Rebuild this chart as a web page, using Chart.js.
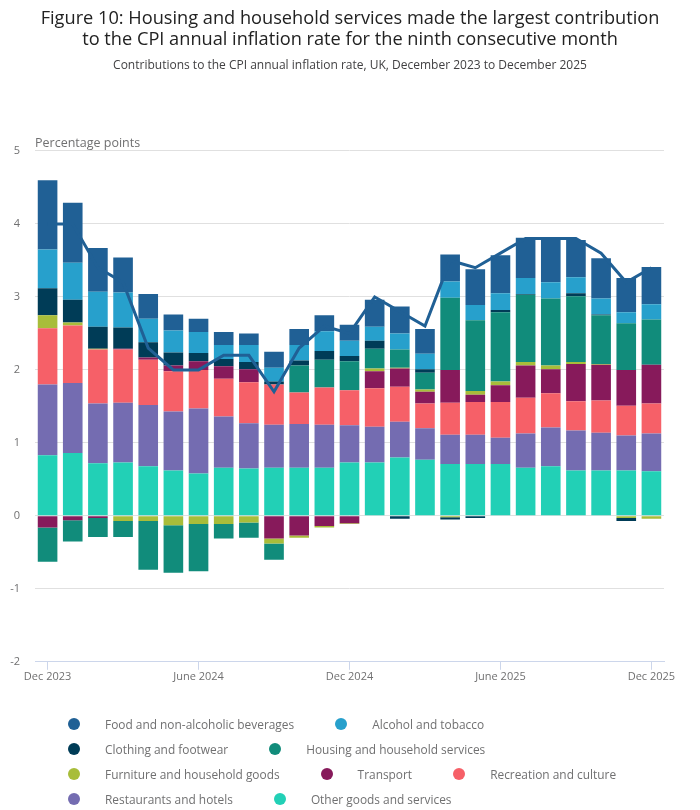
<!DOCTYPE html>
<html>
<head>
<meta charset="utf-8">
<title>CPI contributions</title>
<script src="https://cdn.jsdelivr.net/npm/chart.js@4.4.1/dist/chart.umd.min.js"></script>
<style>
  html, body { margin: 0; padding: 0; background: #fff; }
  #wrap { position: relative; width: 700px; height: 810px; }
  #chart { display: block; }
  #legend {
    position: absolute; left: 68px; top: 711px; width: 610px;
    display: flex; flex-wrap: wrap;
    font-family: "Open Sans", sans-serif; font-size: 11.9px; color: #707071;
  }
  #legend .item { display: flex; align-items: center; height: 25px; margin-right: 41px; }
  #legend .dot { width: 12px; height: 12px; border-radius: 50%; margin-right: 25px; }
</style>
</head>
<body>
<div id="wrap">
  <canvas id="chart" width="700" height="810"></canvas>
  <div id="legend"></div>
</div>
<script>
const months = ["Dec 2023", "Jan 2024", "Feb 2024", "Mar 2024", "Apr 2024", "May 2024", "June 2024",
  "Jul 2024", "Aug 2024", "Sep 2024", "Oct 2024", "Nov 2024", "Dec 2024", "Jan 2025", "Feb 2025",
  "Mar 2025", "Apr 2025", "May 2025", "June 2025", "Jul 2025", "Aug 2025", "Sep 2025", "Oct 2025",
  "Nov 2025", "Dec 2025"];

const yTicks = [-2, -1, 0, 1, 2, 3, 4, 5];

// contributions, percentage points
const food = [0.95, 0.82, 0.60, 0.48, 0.34, 0.22, 0.18, 0.18, 0.16, 0.22, 0.22, 0.22, 0.22,
  0.37, 0.37, 0.34, 0.37, 0.49, 0.52, 0.55, 0.58, 0.51, 0.55, 0.47, 0.51];
const alcohol = [0.53, 0.51, 0.48, 0.48, 0.32, 0.30, 0.29, 0.19, 0.23, 0.19, 0.21, 0.27, 0.21,
  0.19, 0.22, 0.21, 0.22, 0.21, 0.23, 0.22, 0.22, 0.22, 0.22, 0.15, 0.21];
const clothing = [0.37, 0.31, 0.30, 0.29, 0.21, 0.18, 0.11, 0.10, 0.10, 0.04, 0.07, 0.12, 0.07,
  0.11, -0.04, 0.05, -0.03, -0.03, 0.03, 0.01, 0.00, 0.04, 0.01, -0.04, 0.00];
const housing = [-0.47, -0.29, -0.26, -0.22, -0.67, -0.65, -0.65, -0.20, -0.21, -0.22, 0.37, 0.38, 0.40,
  0.27, 0.25, 0.23, 0.99, 0.97, 0.95, 0.92, 0.92, 0.90, 0.67, 0.64, 0.62];
const furniture = [0.18, 0.04, 0.01, -0.07, -0.07, -0.13, -0.11, -0.11, -0.09, -0.07, -0.03, -0.02, -0.01,
  0.04, 0.01, 0.03, -0.02, 0.05, 0.05, 0.05, 0.05, 0.03, 0.01, -0.03, -0.04];
const transport = [-0.16, -0.06, -0.03, 0.01, 0.03, 0.08, 0.12, 0.17, 0.18, -0.31, -0.27, -0.14, -0.10,
  0.23, 0.25, 0.16, 0.45, 0.10, 0.23, 0.44, 0.33, 0.51, 0.49, 0.49, 0.53];
const recreation = [0.77, 0.79, 0.74, 0.73, 0.62, 0.55, 0.53, 0.52, 0.56, 0.55, 0.43, 0.51, 0.48,
  0.53, 0.48, 0.34, 0.44, 0.45, 0.49, 0.49, 0.47, 0.40, 0.44, 0.41, 0.41];
const restaurants = [0.97, 0.96, 0.82, 0.82, 0.84, 0.81, 0.89, 0.70, 0.62, 0.59, 0.60, 0.59, 0.51,
  0.49, 0.49, 0.43, 0.40, 0.40, 0.36, 0.47, 0.53, 0.55, 0.52, 0.48, 0.52];
const otherGoods = [0.83, 0.86, 0.72, 0.73, 0.68, 0.62, 0.58, 0.66, 0.65, 0.66, 0.66, 0.66, 0.73,
  0.73, 0.80, 0.77, 0.71, 0.71, 0.71, 0.66, 0.68, 0.62, 0.62, 0.62, 0.61];

// CPI annual rate, %
const cpiRate = [4.0, 4.0, 3.4, 3.2, 2.3, 2.0, 2.0, 2.2, 2.2, 1.7, 2.3, 2.6, 2.5,
  3.0, 2.8, 2.6, 3.5, 3.4, 3.6, 3.8, 3.8, 3.8, 3.6, 3.2, 3.4];

const categories = ["Food and non-alcoholic beverages", "Alcohol and tobacco", "Clothing and footwear",
  "Housing and household services", "Furniture and household goods", "Transport",
  "Recreation and culture", "Restaurants and hotels", "Other goods and services"];
const seriesValues = [food, alcohol, clothing, housing, furniture, transport, recreation, restaurants, otherGoods];
const colours = ["#206095", "#27a0cc", "#003c57", "#118c7b", "#a8bd3a", "#871a5b", "#f66068", "#746cb1", "#22d0b6"];

const grey = "#707071";
Chart.defaults.font.family = "'Open Sans', sans-serif";
Chart.defaults.color = grey;

// bars stack bottom-up, so the last category goes first
const barSets = categories.map((name, i) => ({
  type: "bar",
  label: name,
  data: seriesValues[i],
  backgroundColor: colours[i],
  borderWidth: 0,
  barPercentage: 0.78,
  categoryPercentage: 1,
  order: 1
})).reverse();

const lineSet = {
  type: "line",
  label: "CPI annual rate",
  data: cpiRate,
  borderColor: "#206095",
  borderWidth: 3,
  pointRadius: 0,
  tension: 0,
  stack: "cpi",
  order: 0
};

const unitLabel = {
  id: "unitLabel",
  afterDraw(chart) {
    const ctx = chart.ctx;
    ctx.save();
    ctx.font = "12.5px 'Open Sans', sans-serif";
    ctx.fillStyle = grey;
    ctx.textBaseline = "bottom";
    ctx.fillText("Percentage points", chart.chartArea.left, chart.chartArea.top - 1);
    ctx.restore();
  }
};

const chart = new Chart(document.getElementById("chart"), {
  data: { labels: months, datasets: [...barSets, lineSet] },
  plugins: [unitLabel],
  options: {
    responsive: false,
    animation: false,
    layout: { padding: { left: 0, right: 0, bottom: 127 } },
    plugins: {
      legend: { display: false },
      tooltip: { enabled: false },
      title: {
        display: true,
        text: ["Figure 10: Housing and household services made the largest contribution",
               "to the CPI annual inflation rate for the ninth consecutive month"],
        color: "#222222",
        font: { size: 18.2, weight: "normal", lineHeight: 1.17 },
        padding: { top: 8, bottom: 0 }
      },
      subtitle: {
        display: true,
        text: "Contributions to the CPI annual inflation rate, UK, December 2023 to December 2025",
        color: "#414042",
        font: { size: 12, weight: "normal" },
        padding: { top: 8, bottom: 78 }
      }
    },
    scales: {
      x: {
        stacked: true,
        grid: {
          offset: false,
          drawOnChartArea: false,
          tickLength: 8,
          tickColor: (c) => c.index % 6 === 0 ? "#ccd6eb" : "rgba(0,0,0,0)"
        },
        border: { color: "#ccd6eb" },
        ticks: {
          autoSkip: false,
          maxRotation: 0,
          padding: 0,
          font: { size: 11 },
          callback: (v, i) => i % 6 === 0 ? months[i] : ""
        }
      },
      y: {
        stacked: true,
        min: yTicks[0],
        max: yTicks[yTicks.length - 1],
        grid: { color: "#e0e0e0", drawTicks: false },
        border: { display: false },
        afterBuildTicks: (axis) => { axis.ticks = yTicks.map(v => ({ value: v })); },
        afterFit: (axis) => { axis.width = 35; },
        ticks: { padding: 15, font: { size: 11 } }
      },
      // empty axis on the right, only to reserve the right margin
      yRight: {
        position: "right",
        grid: { display: false },
        border: { display: false },
        ticks: { display: false },
        afterFit: (axis) => { axis.width = 36; }
      }
    }
  }
});

// legend in the reference's order, built from the same category list
const legend = document.getElementById("legend");
categories.forEach((name, i) => {
  const item = document.createElement("div");
  item.className = "item";
  item.innerHTML = `<span class="dot" style="background:${colours[i]}"></span><span>${name}</span>`;
  legend.appendChild(item);
});
</script>
</body>
</html>
